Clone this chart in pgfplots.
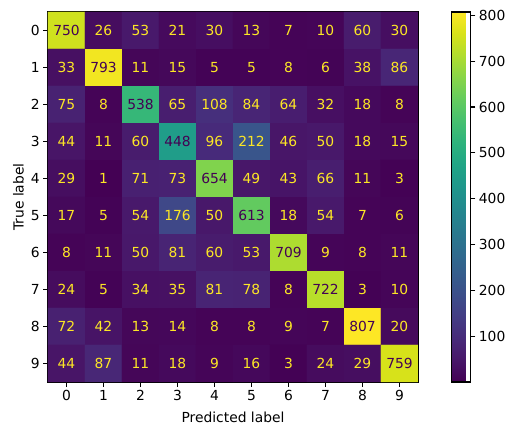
\documentclass[border=0pt]{standalone}
\usepackage{fontspec}
\setmainfont{DejaVu Sans}
\usepackage{pgfplots}
\usepackage{pgfplotstable}
\pgfplotsset{compat=1.18}
\pgfplotsset{/pgf/number format/assume math mode=true}
\definecolor{vdark}{HTML}{440154}
\definecolor{vyellow}{HTML}{FDE725}
% x = predicted label, y = 9 - true label, c = count
\pgfplotstableread{
x y c
0 9 750
1 9 26
2 9 53
3 9 21
4 9 30
5 9 13
6 9 7
7 9 10
8 9 60
9 9 30
0 8 33
1 8 793
2 8 11
3 8 15
4 8 5
5 8 5
6 8 8
7 8 6
8 8 38
9 8 86
0 7 75
1 7 8
2 7 538
3 7 65
4 7 108
5 7 84
6 7 64
7 7 32
8 7 18
9 7 8
0 6 44
1 6 11
2 6 60
3 6 448
4 6 96
5 6 212
6 6 46
7 6 50
8 6 18
9 6 15
0 5 29
1 5 1
2 5 71
3 5 73
4 5 654
5 5 49
6 5 43
7 5 66
8 5 11
9 5 3
0 4 17
1 4 5
2 4 54
3 4 176
4 4 50
5 4 613
6 4 18
7 4 54
8 4 7
9 4 6
0 3 8
1 3 11
2 3 50
3 3 81
4 3 60
5 3 53
6 3 709
7 3 9
8 3 8
9 3 11
0 2 24
1 2 5
2 2 34
3 2 35
4 2 81
5 2 78
6 2 8
7 2 722
8 2 3
9 2 10
0 1 72
1 1 42
2 1 13
3 1 14
4 1 8
5 1 8
6 1 9
7 1 7
8 1 807
9 1 20
0 0 44
1 0 87
2 0 11
3 0 18
4 0 9
5 0 16
6 0 3
7 0 24
8 0 29
9 0 759
}\cm
\begin{document}
\begin{tikzpicture}[font=\fontsize{13.9}{16.7}\selectfont]
\begin{axis}[name=main, scale only axis, width=370bp, height=370bp,
  xmin=-0.5, xmax=9.5, ymin=-0.5, ymax=9.5,
  xtick={0,...,9}, ytick={0,...,9},
  yticklabels={9,8,7,6,5,4,3,2,1,0},
  tick align=outside, tick pos=left, major tick length=4.9bp,
  every tick/.style={black, line width=1.1bp},
  axis line style={line width=1.1bp},
  xlabel={Predicted label}, ylabel={True label},
  xlabel style={yshift=-4bp},
  colormap/viridis, point meta min=1, point meta max=807,
  colorbar,
  colorbar style={width=19bp, at={(parent axis.north east)}, anchor=north west,
    xshift=25bp, ytick={100,200,...,800}, tick align=outside,
    major tick length=4.9bp, yticklabel pos=right, ytick pos=right,
    every tick/.style={black, line width=1.1bp},
    axis line style={line width=1.1bp}},
]
\addplot[matrix plot*, mesh/cols=10, point meta=explicit] table[x=x, y=y, meta=c] {\cm};
\addplot[only marks, mark=*, mark size=0pt, mark options={draw=none, fill=none},
  point meta=explicit,
  nodes near coords={\pgfmathfloattoint{\pgfplotspointmeta}\let\cval\pgfmathresult\ifnum\cval>404 \textcolor{vdark}{\cval}\else\textcolor{vyellow}{\cval}\fi},
  every node near coord/.append style={anchor=center, inner sep=0pt}]
  table[x=x, y=y, meta=c] {\cm};
\end{axis}
\pgfresetboundingbox
\path ([xshift=-48bp,yshift=-53bp]main.south west) rectangle ([xshift=89bp,yshift=12bp]main.north east);
\end{tikzpicture}
\end{document}
